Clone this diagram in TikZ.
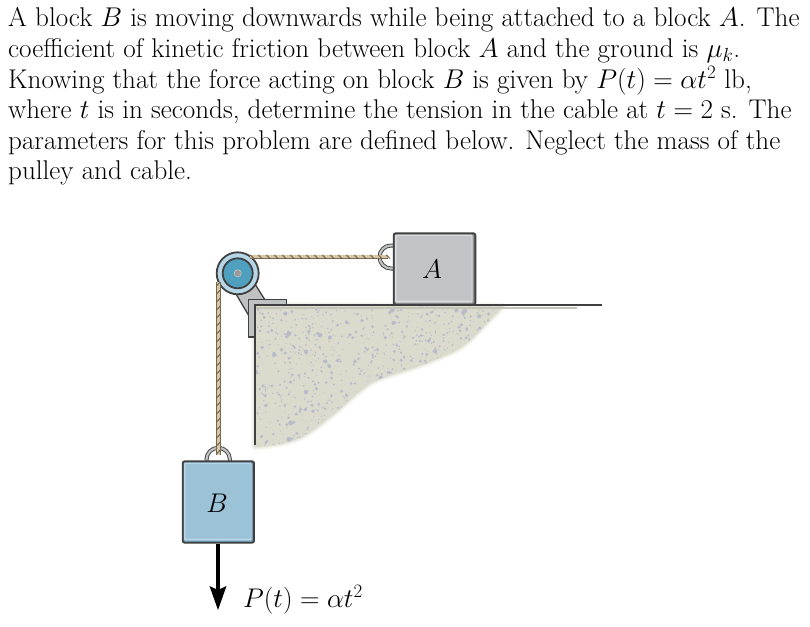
\RequirePackage{fix-cm}
\documentclass[tikz,border=0pt]{standalone}
\usetikzlibrary{decorations.markings}
\definecolor{groundc}{HTML}{DADACD}
\definecolor{ground1}{HTML}{E6E6DB}
\definecolor{ground2}{HTML}{F1F1EA}
\definecolor{ground3}{HTML}{FAFAF7}
\definecolor{dotc}{HTML}{B8BCCA}
\definecolor{outl}{HTML}{404040}
\definecolor{blockA}{HTML}{C1C3C6}
\definecolor{blockAl}{HTML}{DADBDD}
\definecolor{blockAd}{HTML}{8F9194}
\definecolor{blockB}{HTML}{9CC2D8}
\definecolor{blockBl}{HTML}{B7D5E5}
\definecolor{blockBd}{HTML}{6D9BB6}
\definecolor{pulleyc}{HTML}{4F9FBF}
\definecolor{pulleyl}{HTML}{B5D6E6}
\definecolor{brack}{HTML}{BFC1C3}
\definecolor{ropec}{HTML}{D8C6A4}
\definecolor{roped}{HTML}{75684F}
\tikzset{
  x=1pt,y=-1pt,
  ropebase/.style={draw=roped,line width=4.4pt},
  ropetop/.style={draw=ropec,line width=2.8pt},
  ropeticks/.style={decoration={markings,mark=between positions 2pt and 1 step 8pt with {\draw[roped,line width=1.1pt] (-1.8,-1.8)--(1.8,1.8);}},decorate},
  ringd/.style={draw=outl,line width=4pt},
  ringl/.style={draw=brack,line width=2.2pt},
  lab/.style={inner sep=0pt,font=\fontsize{27}{32}\selectfont},
  textline/.style={anchor=base west,inner sep=0pt,font=\fontsize{27.1}{32}\selectfont},
}
\begin{document}
\begin{tikzpicture}
\useasboundingbox (0,0) rectangle (810,626);
% problem text
\node[textline] (l1) at (8,27) {A block $B$ is moving downwards while being attached to a block $A$. The};
\node[textline] (l2) at (8,57.5) {coefficient of kinetic friction between block $A$ and the ground is $\mu_k$.};
\node[textline] (l3) at (8,88) {Knowing that the force acting on block $B$ is given by $P(t)=\alpha t^2$ lb,};
\node[textline] (l4) at (8,118.5) {where $t$ is in seconds, determine the tension in the cable at $t=2$ s. The};
\node[textline] (l5) at (8,149) {parameters for this problem are defined below. Neglect the mass of the};
\node[textline] (l6) at (8,179.5) {pulley and cable.};
% ground
\def\groundpath{(254.5,305) -- (503,306) .. controls (497,313) and (492,318) .. (486.7,323) .. controls (475,336) and (465,346) .. (453,352) .. controls (435,360) and (420,366) .. (407,370) .. controls (395,374) and (383,377) .. (373,382) .. controls (366,386) and (360,391) .. (353,397) .. controls (345,404) and (338,411) .. (330,417) .. controls (320,425) and (310,433) .. (300,438) .. controls (288,443) and (272,446) .. (254.5,447) -- cycle}
\draw[ground3,fill=ground3,line width=7pt,line join=round] \groundpath;
\draw[ground2,fill=ground2,line width=4.5pt,line join=round] \groundpath;
\draw[ground1,fill=ground1,line width=2pt,line join=round] \groundpath;
\fill[groundc] \groundpath;
\begin{scope}
\clip \groundpath;
\pgfmathsetseed{17}
\foreach \i in {1,...,1100}{
  \pgfmathsetmacro{\dx}{256+rnd*245}
  \pgfmathsetmacro{\dy}{307+rnd*140}
  \pgfmathsetmacro{\dr}{0.5+2.0*rnd*rnd}
  \fill[dotc] (\dx,\dy) circle[radius=\dr pt];
}
\end{scope}
\draw[ground1!85!black,line width=2pt] (256,307.5) -- (577,307.5);
% bracket and arm
\fill[brack,draw=outl,line width=1.3pt,line join=round] (236,294) -- (255,284) -- (265,300) -- (249,300) -- (249,316) -- cycle;
\fill[brack,draw=outl,line width=1.3pt] (248.7,299.3) -- (286.7,299.3) -- (286.7,305) -- (255,305) -- (255,337) -- (248.7,337) -- cycle;
% ground lines
\draw[outl,line width=1.8pt] (254.7,445) -- (254.7,305.3) -- (602,305.3);
% block A
\draw[ringd] (393,245.5) -- (391,245.5) arc[start angle=270,end angle=90,radius=11.5] -- (393,268.5);
\draw[ringl] (393,245.5) -- (391,245.5) arc[start angle=270,end angle=90,radius=11.5] -- (393,268.5);
\filldraw[outl,fill=blockAd,line width=1.9pt,rounded corners=2pt] (393.7,233.3) rectangle (475.3,304.7);
\fill[blockAl,rounded corners=1pt] (395,234.6) rectangle (472.5,302.5);
\fill[blockA,rounded corners=1pt] (396.5,236) rectangle (471.5,300.5);
\node[lab] (A) at (432,269) {$A$};
% block B
\draw[ringd] (206.5,461) -- (206.5,459.5) arc[start angle=180,end angle=360,radius=11.7] -- (229.9,461);
\draw[ringl] (206.5,461) -- (206.5,459.5) arc[start angle=180,end angle=360,radius=11.7] -- (229.9,461);
\filldraw[outl,fill=blockBd,line width=1.9pt,rounded corners=2pt] (182.7,461.3) rectangle (254,542.7);
\fill[blockBl,rounded corners=1pt] (184,462.6) rectangle (251.5,540.5);
\fill[blockB,rounded corners=1pt] (185.5,464) rectangle (250.5,538.5);
\node[lab] (B) at (217,503) {$B$};
% pulley
\coordinate (pc) at (237.7,273.3);
\filldraw[outl,fill=pulleyl,line width=1.8pt] (pc) circle[radius=21];
\filldraw[outl,fill=pulleyc,line width=1.8pt] (pc) circle[radius=15];
\filldraw[fill=gray!80,draw=gray!45!white,line width=.6pt] (pc) circle[radius=3.6];
% rope
\coordinate (ropeA) at (388,256.7);
\coordinate (ropeT) at (250,256.7);
\coordinate (ropeL) at (218.3,282);
\coordinate (ropeB) at (218.3,455);
\foreach \a/\b in {ropeT/ropeA,ropeL/ropeB}{
  \draw[ropebase] (\a) -- (\b);
  \draw[ropetop,postaction={ropeticks}] (\a) -- (\b);
}
% force
\coordinate (arrS) at (218,543.5);
\coordinate (arrE) at (218,610);
\draw[black,line width=4.6pt] (arrS) -- (218,592);
\fill[black] (arrE) -- (209.5,586) -- (218,590) -- (226.5,586) -- cycle;
\node[lab,anchor=base west] (P) at (243,607) {$P(t)=\alpha t^2$};
\end{tikzpicture}
\end{document}
